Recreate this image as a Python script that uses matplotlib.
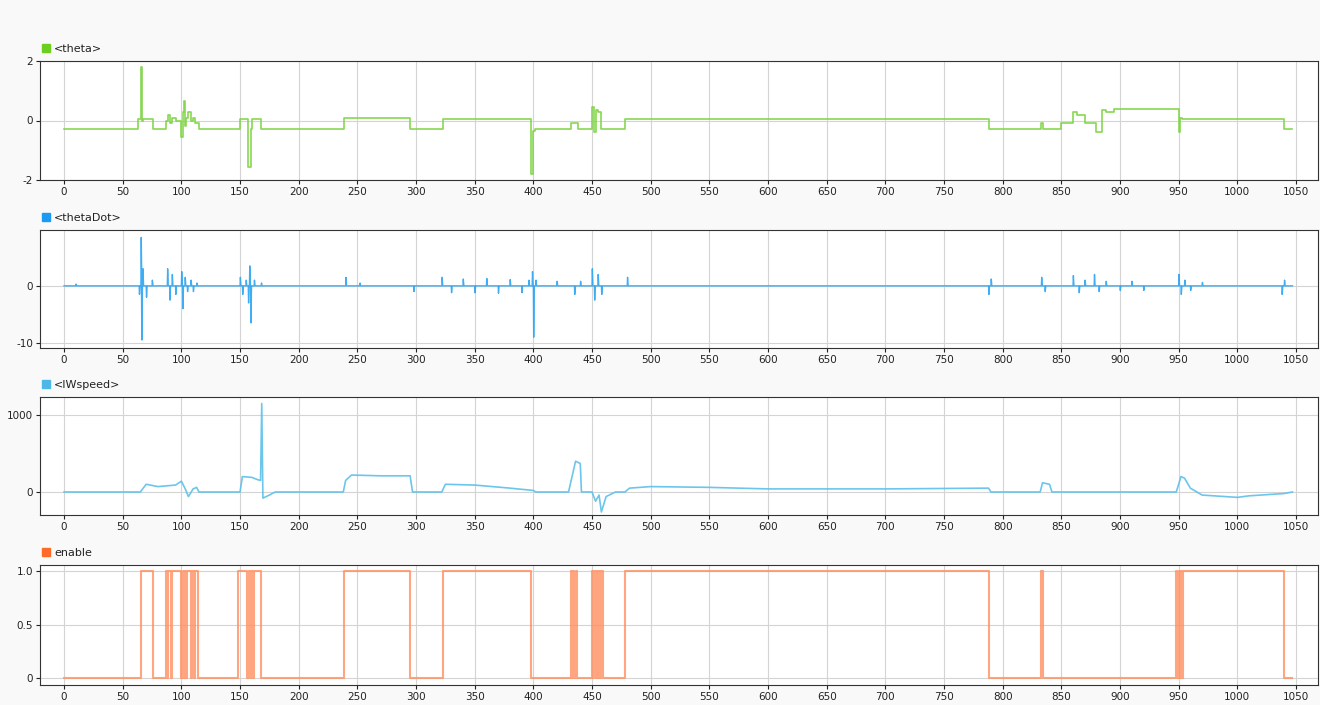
import matplotlib
matplotlib.use("Agg")
import matplotlib.pyplot as plt
import numpy as np

# theta: step breakpoints (time, value)
theta_t = [0, 63, 65.5, 66.5, 67, 76, 87, 89, 90, 92, 95, 100, 101, 102, 103, 104, 106, 108, 110, 112, 115,
           150, 157, 159, 160, 168, 239, 295, 323, 398, 400, 401, 432, 438, 450, 451.5, 453, 455, 458, 478,
           788, 833, 834, 836, 850, 860, 863, 870, 880, 885, 888, 895, 950, 951, 953, 1040, 1047]
theta_v = [-0.3, 0.05, 1.8, 0.0, 0.05, -0.3, 0.0, 0.2, -0.1, 0.1, 0.0, -0.55, 0.3, 0.65, -0.2, 0.1, 0.3, 0.0, 0.1, -0.1, -0.3,
           0.05, -1.55, -0.3, 0.05, -0.3, 0.07, -0.3, 0.05, -1.8, -0.35, -0.3, -0.1, -0.3, 0.45, -0.4, 0.35, 0.3, -0.3, 0.05,
           -0.3, -0.1, -0.3, -0.3, -0.1, 0.3, 0.2, -0.1, -0.4, 0.35, 0.3, 0.4, -0.4, 0.1, 0.05, -0.3, -0.3]

# thetaDot: spikes (time, value) on a zero baseline
tdot_t = [10, 64, 65.5, 66, 67, 70, 75, 88, 90, 92, 95, 100, 101, 103, 105, 108, 110, 113, 150, 152, 155, 157, 158, 159, 162,
          168, 240, 252, 298, 322, 330, 340, 350, 360, 370, 380, 390, 396, 399, 400, 402, 420, 435, 440, 450, 452, 455, 458, 480,
          788, 790, 833, 836, 860, 865, 870, 878, 882, 888, 900, 910, 920, 950, 952, 955, 960, 970, 1038, 1040]
tdot_v = [0.3, -1.5, 8.5, -9.5, 3.0, -2.0, 1.0, 3.0, -2.5, 2.0, -1.5, 2.5, -4.0, 1.5, -1.0, 1.0, -1.0, 0.5, 1.5, -1.5, 1.0, -3.0, 3.5, -6.5, 1.0,
          0.5, 1.5, 0.5, -1.0, 1.5, -1.2, 1.2, -1.2, 1.3, -1.3, 1.1, -1.2, 1.0, 2.5, -9.0, 1.0, 0.8, -1.5, 0.8, 3.0, -2.5, 2.0, -1.5, 1.5,
          -1.5, 1.2, 1.5, -1.0, 1.8, -1.2, 1.0, 2.0, -1.0, 0.8, -0.8, 0.8, -0.8, 2.0, -1.5, 1.0, -0.8, 0.6, -1.5, 1.0]

# IWspeed: piecewise-linear points
iw_t = [0, 65, 70, 80, 95, 100, 103, 106, 110, 113, 115, 150, 152, 160, 165, 167.5, 168.5, 169.5, 175, 180, 238, 240, 245, 270, 295, 297,
        322, 325, 350, 380, 400, 402, 430, 433, 436, 440, 441, 450, 453, 456, 458, 462, 470, 478, 482, 500, 550, 600, 700, 788, 790,
        832, 834, 840, 842, 948, 952, 955, 960, 970, 1000, 1010, 1040, 1047]
iw_v = [0, 0, 100, 70, 90, 140, 50, -60, 40, 60, 0, 0, 200, 190, 160, 150, 1150, -80, -40, 0, 0, 150, 220, 210, 210, 0,
        0, 100, 90, 50, 20, 0, 0, 200, 400, 370, 0, 0, -120, -40, -260, -60, 0, 0, 50, 70, 60, 40, 40, 50, 0,
        0, 120, 100, 0, 0, 200, 180, 50, -40, -70, -50, -20, 0]

# enable: on intervals
en_on = [66, 87, 89, 92, 101, 103, 105, 109, 112, 148, 158, 160, 162, 239, 323, 432, 434, 436, 450, 452, 454, 456, 458, 478, 833, 948, 950, 952, 954]
en_off = [76, 88, 91, 100, 102, 104, 108, 111, 114, 156, 159, 161, 168, 295, 398, 433, 435, 437, 451, 453, 455, 457, 459, 788, 834, 949, 951, 953, 1040]
t_end = 1047

names = ["<theta>", "<thetaDot>", "<IWspeed>", "enable"]
line_cols = ["#7bd33f", "#2aa4f2", "#5cc0ea", "#ff8f60"]
sq_cols = ["#6ccf1f", "#1a9af0", "#4cb8e8", "#ff6a2a"]
ylims = [(-2, 2), (-10.9, 9.8), (-299, 1234), (-0.065, 1.056)]
yticks = [[-2, 0, 2], [-10, 0], [0, 1000], [0, 0.5, 1.0]]
yticklabels = [["-2", "0", "2"], ["-10", "0"], ["0", "1000"], ["0", "0.5", "1.0"]]

fig = plt.figure(figsize=(13.2, 7.05), dpi=100, facecolor="#f9f9f9")
W, H = 1320, 705
tops = [61, 230, 397, 565]
bots = [180, 348, 515, 685]
axes = []
for i in range(4):
    ax = fig.add_axes([40 / W, 1 - bots[i] / H, (1318 - 40) / W, (bots[i] - tops[i]) / H])
    axes.append(ax)

# theta
axes[0].step(theta_t, theta_v, where="post", color=line_cols[0], lw=1.2, alpha=0.9)
# thetaDot
xs, ys = [0], [0]
for t, v in zip(tdot_t, tdot_v):
    xs += [t, t + 0.3, t + 0.8]
    ys += [0, v, 0]
xs.append(t_end); ys.append(0)
axes[1].plot(xs, ys, color=line_cols[1], lw=1.0, alpha=0.9)
# IWspeed
axes[2].plot(iw_t, iw_v, color=line_cols[2], lw=1.2, alpha=0.9)
# enable
ex, ey = [0], [0]
for a, b in zip(en_on, en_off):
    ex += [a, a, b, b]
    ey += [0, 1, 1, 0]
ex.append(t_end); ey.append(0)
axes[3].plot(ex, ey, color=line_cols[3], lw=1.5, alpha=0.8)

for i, ax in enumerate(axes):
    ax.set_facecolor("white")
    ax.set_xlim(-20.5, 1068.8)
    ax.set_ylim(*ylims[i])
    ax.set_xticks(np.arange(0, 1051, 50))
    ax.set_xticklabels([str(v) for v in range(0, 1051, 50)], fontsize=7.5)
    ax.set_yticks(yticks[i])
    ax.set_yticklabels(yticklabels[i], fontsize=7.5)
    ax.grid(True, color="#d4d4d4", lw=0.8)
    ax.set_axisbelow(True)
    ax.tick_params(length=3, pad=2, colors="#222222")
    for s in ax.spines.values():
        s.set_color("#333333"); s.set_linewidth(0.8)
    fig.patches.append(plt.Rectangle((42 / W, 1 - (tops[i] - 9) / H), 8 / W, 8 / H,
                                     transform=fig.transFigure, color=sq_cols[i]))
    fig.text(54 / W, 1 - (tops[i] - 12) / H, names[i], fontsize=8, va="center", color="#222222")

fig.savefig("out.png", dpi=100, facecolor=fig.get_facecolor())
